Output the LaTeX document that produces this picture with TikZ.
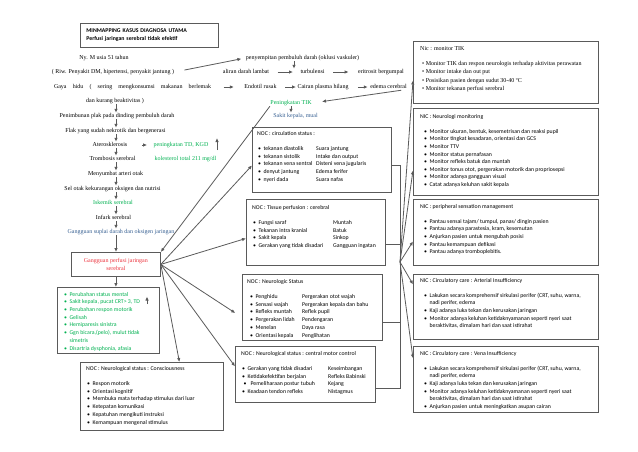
\documentclass[tikz,border=0pt]{standalone}
\usepackage{fontspec}
\setmainfont{Liberation Serif}
\newfontfamily\carl{Carlito}
\usetikzlibrary{arrows.meta}
\definecolor{mmgreen}{RGB}{0,176,80}
\definecolor{mmblue}{RGB}{54,95,145}
\definecolor{mmred}{RGB}{235,50,60}
\definecolor{boxgray}{RGB}{90,90,90}
\definecolor{ink}{RGB}{90,90,90}
\newcommand{\bu}{\textbullet}
\tikzset{
    arr/.style={draw=ink, -{Latex[length=4pt,width=3.5pt]}, line width=0.8pt},
    bus/.style={draw=ink, line width=0.7pt},
    box/.style={draw=boxgray, line width=0.8pt, anchor=north west, inner sep=0pt},
    chain/.style={font=\fontsize{6}{7}\selectfont, inner sep=0.3pt, text height=4.2pt, text depth=1.3pt},
    list/.style={anchor=north west, inner sep=0pt, font=\carl\fontsize{5.8}{7.7}\selectfont},
    nic/.style={anchor=north west, inner sep=0pt, font=\carl\fontsize{5.8}{7.6}\selectfont}
}
\begin{document}
\begin{tikzpicture}[x=1pt, y=1pt]
        \useasboundingbox (0,0) rectangle (638,-451);

        \node[box, text width=126pt, inner xsep=6pt, minimum height=24pt, align=left,
              font=\carl\bfseries\fontsize{5.8}{8}\selectfont] (judul) at (80,-23)
              {MINMAPPING KASUS DIAGNOSA UTAMA\\Perfusi jaringan serebral tidak efektif};

        \node[chain] (ny) at (104,-58) {Ny. M usia 51 tahun};
        \node[chain] (riw) at (113,-72) {( Riw. Penyakit DM, hipertensi, penyakit jantung )};
        \node[chain] (gaya) at (132.5,-87) {\makebox[157pt][s]{Gaya hidu ( sering mengkonsumsi makanan berlemak}};
        \node[chain] (dan) at (115,-101) {dan kurang beaktivitas )};
        \node[chain] (plak) at (117,-116) {Penimbunan plak pada dinding pembuluh darah};
        \node[chain] (flak) at (115.5,-131) {Flak yang sudah nekrotik dan bergenerasi};
        \node[chain] (ater) at (110,-145) {Aterosklerosis};
        \node[chain, text=mmgreen] (td) at (181,-145) {peningkatan TD, KGD};
        \node[chain] (tromb) at (112.5,-159) {Trombosis serebral};
        \node[chain, text=mmgreen] (kol) at (185.5,-159) {kolesterol total 211 mg/dl};
        \node[chain] (sumbat) at (115.5,-174) {Menyumbat arteri otak};
        \node[chain] (sel) at (112.5,-189) {Sel otak kekurangan oksigen dan nutrisi};
        \node[chain, text=mmgreen] (iskemik) at (113,-203) {Iskemik serebral};
        \node[chain] (infark) at (113.5,-218) {Infark serebral};
        \node[chain, text=mmblue] (suplai) at (121,-232) {Gangguan suplai darah dan oksigen jaringan};
        \node[box, minimum width=89pt, minimum height=24pt, align=center, text=mmred,
              font=\fontsize{6}{7.5}\selectfont] (gpj) at (71,-252) {Gangguan perfusi jaringan\\serebral};

        \node[chain] (sempit) at (302.5,-58) {penyempitan pembuluh darah (oklusi vaskuler)};
        \node[chain] (aliran) at (246,-72) {aliran darah lambat};
        \node[chain] (turb) at (312.5,-72) {turbulensi};
        \node[chain] (eritro) at (381,-72) {eritrosit bergumpal};
        \node[chain] (endotil) at (260.5,-87) {Endotil rusak};
        \node[chain] (cairan) at (323,-87) {Cairan plasma hilang};
        \node[chain] (edema) at (388.5,-87) {edema cerebral};
        \node[chain, text=mmgreen] (tik) at (291,-103) {Peningkatan TIK};
        \node[chain, text=mmblue] (sakit) at (295.5,-116) {Sakit kepala, mual};

        \node[box, minimum width=139pt, minimum height=65pt] (circbox) at (252,-127) {};
        \node[list] (circ) at (257,-129.6) {\begin{tabular}{@{\hspace{1pt}}p{58pt}@{}l@{}}
            \multicolumn{2}{@{}l@{}}{NOC : circulation status :}\\
            \\
            \bu\hspace{2.5pt}tekanan diastolik & Suara jantung\\
            \bu\hspace{2.5pt}tekanan sistolik & Intake dan output\\
            \bu\hspace{2.5pt}tekanan vena sentral & Disteni vena jugularis\\
            \bu\hspace{2.5pt}denyut jantung & Edema ferifer\\
            \bu\hspace{2.5pt}nyeri dada & Suara nafas
        \end{tabular}};

        \node[box, minimum width=139pt, minimum height=66pt] (tisbox) at (246,-199) {};
        \node[list] (tis) at (252,-203.6) {\begin{tabular}{@{\hspace{1pt}}p{80pt}@{}l@{}}
            \multicolumn{2}{@{}l@{}}{NOC : Tissue perfusion : cerebral}\\
            \\
            \bu\hspace{2.5pt}Fungsi saraf & Muntah\\
            \bu\hspace{2.5pt}Tekanan intra kranial & Batuk\\
            \bu\hspace{2.5pt}Sakit kepala & Sinkop\\
            \bu\hspace{2.5pt}Gerakan yang tidak disadari & Gangguan ingatan
        \end{tabular}};

        \node[box, minimum width=140pt, minimum height=66pt] (neurobox) at (242,-274) {};
        \node[list] (neuro) at (247,-277.6) {\begin{tabular}{@{\hspace{3pt}}p{52pt}@{}l@{}}
            \multicolumn{2}{@{}l@{}}{NOC : Neurologic Status}\\
            \\
            \bu\hspace{2.5pt}Penghidu & Pergerakan otot wajah\\
            \bu\hspace{2.5pt}Sensasi wajah & Pergerakan kepala dan bahu\\
            \bu\hspace{2.5pt}Refleks muntah & Reflek pupil\\
            \bu\hspace{2.5pt}Pergerakan lidah & Pendengaran\\
            \bu\hspace{2.5pt}Menelan & Daya rasa\\
            \bu\hspace{2.5pt}Orientasi kepala & Penglihatan
        \end{tabular}};

        \node[box, minimum width=140pt, minimum height=56pt] (motorbox) at (235,-346) {};
        \node[list] (motor) at (241,-349.6) {\begin{tabular}{@{\hspace{1pt}}p{86pt}@{}l@{}}
            \multicolumn{2}{@{}l@{}}{NOC : Neurological status : central motor control}\\
            \\
            \bu\hspace{2.5pt}Gerakan yang tidak disadari & Keseimbangan\\
            \bu\hspace{2.5pt}Ketidakefektifan berjalan & Refleks Babinski\\
            \hspace{1.5pt}\bu\hspace{4pt}Pemeliharaan postur tubuh & Kejang\\
            \bu\hspace{2.5pt}Keadaan tendon refleks & Nistagmus
        \end{tabular}};

        \node[box, minimum width=102pt, minimum height=66pt] (greenbox) at (57,-287) {};
        \node[list, text=mmgreen] (gejala) at (64,-290.6) {\begin{tabular}{@{}l@{\hspace{2.5pt}}l@{}}
            \bu & Perubahan status mental\\
            \bu & Sakit kepala, pucat CRT> 3, TD\\
            \bu & Perubahan respon motorik\\
            \bu & Gelisah\\
            \bu & Hemiparesis sinistra\\
            \bu & Ggn bicara,(pelo), mulut tidak\\
                & simetris\\
            \bu & Disartria dysphonia, afasia
        \end{tabular}};

        \node[box, minimum width=143pt, minimum height=68pt] (consbox) at (80,-362) {};
        \node[list] (cons) at (86,-364.6) {\begin{tabular}{@{\hspace{1pt}}l@{\hspace{2.5pt}}l@{}}
            \multicolumn{2}{@{}l@{}}{NOC : Neurological status : Consciousness}\\
            \\
            \bu & Respon motorik\\
            \bu & Orientasi kognitif\\
            \bu & Membuka mata terhadap stimulus dari luar\\
            \bu & Ketepatan komunikasi\\
            \bu & Kepatuhan mengikuti instruksi\\
            \bu & Kemampuan mengenal stimulus
        \end{tabular}};

        \node[box, minimum width=185pt, minimum height=62pt] (tikbox) at (413,-41) {};
        \node[anchor=north west, inner sep=0pt, font=\fontsize{6}{8.4}\selectfont] (montik) at (420,-44.1) {\begin{tabular}{@{\hspace{2pt}}l@{\hspace{1.5pt}}l@{}}
            \multicolumn{2}{@{}l@{}}{Nic : monitor TIK}\\[-1.6pt]
            \\
            \bu & Monitor TIK dan respon neurologis terhadap aktivitas perawatan\\
            \bu & Monitor intake dan out put\\
            \bu & Posisikan pasien dengan sudut 30-40 ºC\\
            \bu & Monitor tekanan perfusi serebral
        \end{tabular}};

        \node[box, minimum width=185pt, minimum height=87pt] (monbox) at (413,-108) {};
        \node[nic] (mon) at (420,-112.6) {\begin{tabular}{@{\hspace{4pt}}l@{\hspace{2.5pt}}l@{}}
            \multicolumn{2}{@{}l@{}}{NIC : Neurologi monitoring}\\
            \\
            \bu & Monitor ukuran, bentuk, kesemetrisan dan reaksi pupil\\
            \bu & Monitor tingkat kesadaran, orientasi dan GCS\\
            \bu & Monitor TTV\\
            \bu & Monitor status pernafasan\\
            \bu & Monitor refleks batuk dan muntah\\
            \bu & Monitor tonus otot, pergerakan motorik dan propriosepsi\\
            \bu & Monitor adanya gangguan visual\\
            \bu & Catat adanya keluhan sakit kepala
        \end{tabular}};

        \node[box, minimum width=185pt, minimum height=66pt] (perbox) at (413,-199) {};
        \node[nic] (per) at (420,-202.6) {\begin{tabular}{@{\hspace{4pt}}l@{\hspace{2.5pt}}l@{}}
            \multicolumn{2}{@{}l@{}}{NIC : peripheral sensation management}\\
            \\
            \bu & Pantau sensai tajam/ tumpul, panas/ dingin pasien\\
            \bu & Pantau adanya parastesia, kram, kesemutan\\
            \bu & Anjurkan pasien untuk mengubah posisi\\
            \bu & Pantau kemampuan defikasi\\
            \bu & Pantau adanya tromboplebitis.
        \end{tabular}};

        \node[box, minimum width=185pt, minimum height=65pt] (artbox) at (413,-274) {};
        \node[nic] (art) at (420,-276.6) {\begin{tabular}{@{\hspace{4pt}}l@{\hspace{2.5pt}}l@{}}
            \multicolumn{2}{@{}l@{}}{NIC : Circulatory care : Arterial Insufficiency}\\
            \\
            \bu & Lakukan secara komprehensif sirkulasi perifer (CRT, suhu, warna,\\
                & nadi perifer, edema\\
            \bu & Kaji adanya luka tekan dan kerusakan jaringan\\
            \bu & Monitor adanya keluhan ketidaknyamanan seperti nyeri saat\\
                & beraktivitas, dimalam hari dan saat istirahat
        \end{tabular}};

        \node[box, minimum width=185pt, minimum height=66pt] (venbox) at (413,-346) {};
        \node[nic] (ven) at (420,-349.6) {\begin{tabular}{@{\hspace{4pt}}l@{\hspace{2.5pt}}l@{}}
            \multicolumn{2}{@{}l@{}}{NIC : Circulatory care : Vena Insufficiency}\\
            \\
            \bu & Lakukan secara komprehensif sirkulasi perifer (CRT, suhu, warna,\\
                & nadi perifer, edema\\
            \bu & Kaji adanya luka tekan dan kerusakan jaringan\\
            \bu & Monitor adanya keluhan ketidaknyamanan seperti nyeri saat\\
                & beraktivitas, dimalam hari dan saat istirahat\\
            \bu & Anjurkan pasien untuk meningkatkan asupan cairan
        \end{tabular}};

        \coordinate (sumbu) at (116,0);
        \coordinate (naikA) at (217,-150);
        \coordinate (naikB) at (217,-138);
        \coordinate (tdA) at (147,-304);
        \coordinate (tdB) at (147,-296.5);
        \coordinate (hub) at (400,-262);

        \draw[arr] (dan.south -| sumbu) -- (plak.north -| sumbu);
        \draw[arr] (plak.south -| sumbu) -- (flak.north -| sumbu);
        \draw[arr] (flak.south -| sumbu) -- (ater.north -| sumbu);
        \draw[arr] (ater.south -| sumbu) -- (tromb.north -| sumbu);
        \draw[arr] (tromb.south -| sumbu) -- (sumbat.north -| sumbu);
        \draw[arr] (sumbat.south -| sumbu) -- (sel.north -| sumbu);
        \draw[arr] (sel.south -| sumbu) -- (iskemik.north -| sumbu);
        \draw[arr] (iskemik.south -| sumbu) -- (infark.north -| sumbu);
        \draw[arr] (infark.south -| sumbu) -- (suplai.north -| sumbu);
        \draw[arr] (suplai.south -| sumbu) -- (gpj.north -| sumbu);
        \draw[arr, shorten <=14pt, shorten >=6pt] (ater) -- (td);
        \draw[arr] (naikA) -- (naikB);
        \draw[arr] (tdA) -- (tdB);

        \draw[arr, shorten <=10pt, shorten >=4pt] (riw.east) -- (sempit.west);
        \draw[arr] ([xshift=-6pt]turb.west |- sempit.south) -- ([xshift=-6pt]turb.north west);
        \draw[arr, shorten <=8pt, shorten >=7pt] (aliran) -- (turb);
        \draw[arr, shorten <=8pt, shorten >=9pt] (turb) -- (eritro);
        \draw[arr, shorten <=12pt, shorten >=10pt] (gaya) -- (endotil);
        \draw[arr, shorten <=8pt, shorten >=1pt] (endotil) -- (cairan);
        \draw[arr, shorten <=9pt, shorten >=2pt] (cairan) -- (edema);
        \draw[arr, shorten >=10pt] ([xshift=-6pt]edema.south east) -- (tik.east);
        \draw[arr] (tik.south) -- (tik.south |- sakit.north);
        \draw[arr] (tik.south west) -- (gpj.north east);

        \draw[arr] (gpj.south) -- (gpj.south |- greenbox.north);
        \draw[arr] (gpj.east) -- ([yshift=-5.5pt]circbox.west);
        \draw[arr] (gpj.east) -- ([yshift=-6pt]tisbox.west);
        \draw[arr, shorten >=8pt] (gpj.east) -- ([yshift=-10pt]neurobox.west);
        \draw[arr] (gpj.east) -- ([yshift=8pt]motorbox.west);
        \draw[arr] (gpj.east) -- ([xshift=27.5pt]consbox.north);

        \draw[bus] ([yshift=-5.5pt]circbox.east) -| (hub);
        \draw[bus] ([yshift=-12pt]tisbox.east) -| (hub);
        \draw[bus] ([yshift=-15pt]neurobox.east) -| (hub);
        \draw[bus] ([yshift=-14pt]motorbox.east) -| (hub);

        \draw[arr] (hub) -- ([yshift=-8pt]tikbox.west);
        \draw[arr] (hub) -- ([yshift=-18.5pt]monbox.west);
        \draw[arr] (hub) -- ([yshift=-9pt]perbox.west);
        \draw[arr] (hub) -- ([yshift=22.5pt]artbox.west);
        \draw[arr] (hub) -- ([yshift=21pt]venbox.west);
\end{tikzpicture}
\end{document}
